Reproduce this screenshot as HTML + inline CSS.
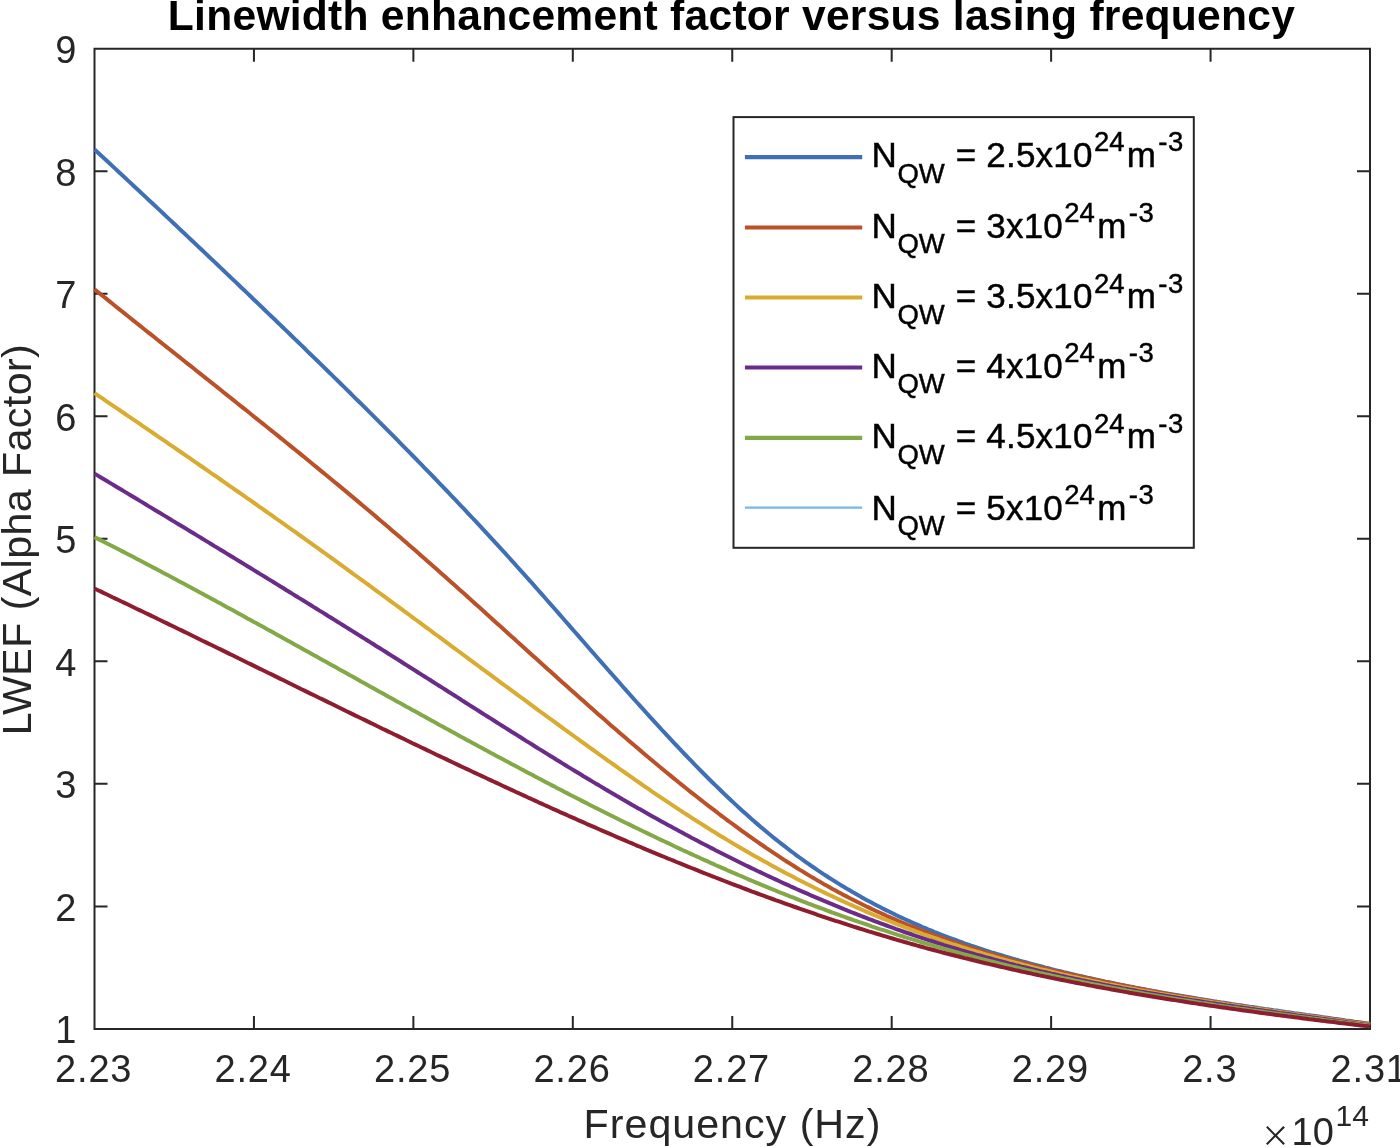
<!DOCTYPE html>
<html><head><meta charset="utf-8"><style>
html,body{margin:0;padding:0;background:#fff;}
body{width:1400px;height:1147px;overflow:hidden;}
svg{display:block;font-family:"Liberation Sans",Arial,sans-serif;}
</style></head><body>
<svg width="1400" height="1147" viewBox="0 0 1400 1147">
<rect width="1400" height="1147" fill="#fff"/>

<g stroke="#262626" stroke-width="2" fill="none">
<path d="M94.5 48.7H1370.0V1028.9H94.5ZM94.5 906.38h13M1370.0 906.38h-13M94.5 783.85h13M1370.0 783.85h-13M94.5 661.33h13M1370.0 661.33h-13M94.5 538.80h13M1370.0 538.80h-13M94.5 416.28h13M1370.0 416.28h-13M94.5 293.75h13M1370.0 293.75h-13M94.5 171.23h13M1370.0 171.23h-13M253.94 1028.9v-13M253.94 48.7v13M413.38 1028.9v-13M413.38 48.7v13M572.81 1028.9v-13M572.81 48.7v13M732.25 1028.9v-13M732.25 48.7v13M891.69 1028.9v-13M891.69 48.7v13M1051.12 1028.9v-13M1051.12 48.7v13M1210.56 1028.9v-13M1210.56 48.7v13"/>
</g>
<g fill="none" stroke-width="4.0" stroke-linejoin="round" stroke-linecap="butt">
<path d="M94.5 149.4L97.5 152.2L100.5 155.0L103.5 157.7L106.5 160.5L109.5 163.3L112.5 166.1L115.5 168.9L118.5 171.7L121.5 174.5L124.5 177.3L127.5 180.1L130.5 182.9L133.5 185.7L136.5 188.5L139.5 191.3L142.5 194.1L145.5 196.9L148.5 199.7L151.5 202.5L154.5 205.3L157.5 208.1L160.5 210.9L163.5 213.7L166.5 216.6L169.5 219.4L172.5 222.2L175.5 225.0L178.5 227.9L181.5 230.7L184.5 233.5L187.5 236.4L190.5 239.2L193.5 242.0L196.5 244.9L199.5 247.7L202.5 250.5L205.5 253.4L208.5 256.2L211.5 259.1L214.5 261.9L217.5 264.8L220.5 267.6L223.5 270.5L226.5 273.4L229.5 276.2L232.5 279.1L235.5 281.9L238.5 284.8L241.5 287.7L244.5 290.5L247.5 293.4L250.5 296.3L253.5 299.2L256.5 302.0L259.5 304.9L262.5 307.8L265.5 310.7L268.5 313.6L271.5 316.5L274.5 319.3L277.5 322.2L280.5 325.1L283.5 328.0L286.5 330.9L289.5 333.8L292.5 336.7L295.5 339.6L298.5 342.5L301.5 345.4L304.5 348.3L307.5 351.3L310.5 354.2L313.5 357.1L316.5 360.0L319.5 362.9L322.5 365.9L325.5 368.8L328.5 371.7L331.5 374.7L334.5 377.6L337.5 380.5L340.5 383.5L343.5 386.4L346.5 389.4L349.5 392.3L352.5 395.3L355.5 398.3L358.5 401.2L361.5 404.2L364.5 407.2L367.5 410.2L370.5 413.1L373.5 416.1L376.5 419.1L379.5 422.1L382.5 425.1L385.5 428.1L388.5 431.2L391.5 434.2L394.5 437.2L397.5 440.2L400.5 443.3L403.5 446.3L406.5 449.3L409.5 452.4L412.5 455.5L415.5 458.5L418.5 461.6L421.5 464.7L424.5 467.8L427.5 470.8L430.5 473.9L433.5 477.0L436.5 480.1L439.5 483.3L442.5 486.4L445.5 489.5L448.5 492.7L451.5 495.8L454.5 498.9L457.5 502.1L460.5 505.3L463.5 508.4L466.5 511.6L469.5 514.8L472.5 518.0L475.5 521.2L478.5 524.4L481.5 527.6L484.5 530.9L487.5 534.1L490.5 537.4L493.5 540.6L496.5 543.9L499.5 547.1L502.5 550.4L505.5 553.7L508.5 557.0L511.5 560.3L514.5 563.6L517.5 567.0L520.5 570.3L523.5 573.6L526.5 577.0L529.5 580.4L532.5 583.7L535.5 587.1L538.5 590.5L541.5 593.9L544.5 597.3L547.5 600.7L550.5 604.1L553.5 607.5L556.5 610.9L559.5 614.4L562.5 617.8L565.5 621.2L568.5 624.6L571.5 628.1L574.5 631.5L577.5 634.9L580.5 638.4L583.5 641.8L586.5 645.2L589.5 648.7L592.5 652.1L595.5 655.5L598.5 659.0L601.5 662.4L604.5 665.8L607.5 669.2L610.5 672.6L613.5 676.0L616.5 679.4L619.5 682.8L622.5 686.2L625.5 689.6L628.5 693.0L631.5 696.3L634.5 699.7L637.5 703.0L640.5 706.4L643.5 709.7L646.5 713.0L649.5 716.3L652.5 719.6L655.5 722.9L658.5 726.2L661.5 729.5L664.5 732.7L667.5 735.9L670.5 739.2L673.5 742.4L676.5 745.5L679.5 748.7L682.5 751.9L685.5 755.0L688.5 758.1L691.5 761.2L694.5 764.3L697.5 767.4L700.5 770.5L703.5 773.5L706.5 776.5L709.5 779.5L712.5 782.5L715.5 785.4L718.5 788.3L721.5 791.2L724.5 794.1L727.5 797.0L730.5 799.8L733.5 802.6L736.5 805.4L739.5 808.2L742.5 810.9L745.5 813.6L748.5 816.3L751.5 818.9L754.5 821.6L757.5 824.1L760.5 826.7L763.5 829.3L766.5 831.8L769.5 834.2L772.5 836.7L775.5 839.1L778.5 841.5L781.5 843.9L784.5 846.2L787.5 848.5L790.5 850.8L793.5 853.0L796.5 855.3L799.5 857.5L802.5 859.6L805.5 861.8L808.5 863.9L811.5 866.0L814.5 868.0L817.5 870.1L820.5 872.1L823.5 874.1L826.5 876.0L829.5 878.0L832.5 879.9L835.5 881.8L838.5 883.6L841.5 885.5L844.5 887.3L847.5 889.1L850.5 890.8L853.5 892.6L856.5 894.3L859.5 896.0L862.5 897.7L865.5 899.4L868.5 901.0L871.5 902.6L874.5 904.2L877.5 905.8L880.5 907.3L883.5 908.9L886.5 910.4L889.5 911.8L892.5 913.3L895.5 914.8L898.5 916.2L901.5 917.6L904.5 919.0L907.5 920.4L910.5 921.7L913.5 923.1L916.5 924.4L919.5 925.7L922.5 927.0L925.5 928.2L928.5 929.5L931.5 930.7L934.5 932.0L937.5 933.2L940.5 934.3L943.5 935.5L946.5 936.7L949.5 937.8L952.5 938.9L955.5 940.0L958.5 941.1L961.5 942.2L964.5 943.3L967.5 944.3L970.5 945.4L973.5 946.4L976.5 947.4L979.5 948.4L982.5 949.4L985.5 950.4L988.5 951.3L991.5 952.3L994.5 953.2L997.5 954.1L1000.5 955.0L1003.5 955.9L1006.5 956.8L1009.5 957.7L1012.5 958.6L1015.5 959.5L1018.5 960.3L1021.5 961.2L1024.5 962.0L1027.5 962.8L1030.5 963.6L1033.5 964.4L1036.5 965.2L1039.5 966.0L1042.5 966.8L1045.5 967.6L1048.5 968.3L1051.5 969.1L1054.5 969.9L1057.5 970.6L1060.5 971.3L1063.5 972.1L1066.5 972.8L1069.5 973.5L1072.5 974.2L1075.5 974.9L1078.5 975.6L1081.5 976.3L1084.5 977.0L1087.5 977.7L1090.5 978.3L1093.5 979.0L1096.5 979.6L1099.5 980.3L1102.5 980.9L1105.5 981.6L1108.5 982.2L1111.5 982.8L1114.5 983.4L1117.5 984.1L1120.5 984.7L1123.5 985.3L1126.5 985.9L1129.5 986.5L1132.5 987.0L1135.5 987.6L1138.5 988.2L1141.5 988.8L1144.5 989.3L1147.5 989.9L1150.5 990.4L1153.5 991.0L1156.5 991.5L1159.5 992.1L1162.5 992.6L1165.5 993.2L1168.5 993.7L1171.5 994.2L1174.5 994.7L1177.5 995.2L1180.5 995.8L1183.5 996.3L1186.5 996.8L1189.5 997.3L1192.5 997.8L1195.5 998.3L1198.5 998.8L1201.5 999.2L1204.5 999.7L1207.5 1000.2L1210.5 1000.7L1213.5 1001.2L1216.5 1001.6L1219.5 1002.1L1222.5 1002.6L1225.5 1003.0L1228.5 1003.5L1231.5 1004.0L1234.5 1004.4L1237.5 1004.9L1240.5 1005.3L1243.5 1005.8L1246.5 1006.2L1249.5 1006.7L1252.5 1007.1L1255.5 1007.5L1258.5 1008.0L1261.5 1008.4L1264.5 1008.9L1267.5 1009.3L1270.5 1009.7L1273.5 1010.2L1276.5 1010.6L1279.5 1011.0L1282.5 1011.4L1285.5 1011.9L1288.5 1012.3L1291.5 1012.7L1294.5 1013.2L1297.5 1013.6L1300.5 1014.0L1303.5 1014.4L1306.5 1014.9L1309.5 1015.3L1312.5 1015.7L1315.5 1016.1L1318.5 1016.5L1321.5 1017.0L1324.5 1017.4L1327.5 1017.8L1330.5 1018.2L1333.5 1018.7L1336.5 1019.1L1339.5 1019.5L1342.5 1019.9L1345.5 1020.4L1348.5 1020.8L1351.5 1021.2L1354.5 1021.7L1357.5 1022.1L1360.5 1022.5L1363.5 1023.0L1366.5 1023.4L1369.5 1023.8L1370.0 1023.9" stroke="#3F6FB4"/>
<path d="M94.5 289.3L97.5 291.7L100.5 294.1L103.5 296.5L106.5 298.9L109.5 301.4L112.5 303.8L115.5 306.2L118.5 308.6L121.5 311.0L124.5 313.4L127.5 315.8L130.5 318.2L133.5 320.6L136.5 323.0L139.5 325.4L142.5 327.8L145.5 330.2L148.5 332.6L151.5 334.9L154.5 337.3L157.5 339.7L160.5 342.1L163.5 344.5L166.5 346.9L169.5 349.3L172.5 351.6L175.5 354.0L178.5 356.4L181.5 358.8L184.5 361.2L187.5 363.6L190.5 365.9L193.5 368.3L196.5 370.7L199.5 373.1L202.5 375.5L205.5 377.9L208.5 380.3L211.5 382.6L214.5 385.0L217.5 387.4L220.5 389.8L223.5 392.2L226.5 394.6L229.5 397.0L232.5 399.4L235.5 401.8L238.5 404.2L241.5 406.6L244.5 408.9L247.5 411.3L250.5 413.7L253.5 416.2L256.5 418.6L259.5 421.0L262.5 423.4L265.5 425.8L268.5 428.2L271.5 430.6L274.5 433.0L277.5 435.4L280.5 437.9L283.5 440.3L286.5 442.7L289.5 445.1L292.5 447.6L295.5 450.0L298.5 452.4L301.5 454.9L304.5 457.3L307.5 459.8L310.5 462.2L313.5 464.7L316.5 467.1L319.5 469.6L322.5 472.1L325.5 474.5L328.5 477.0L331.5 479.5L334.5 482.0L337.5 484.4L340.5 486.9L343.5 489.4L346.5 491.9L349.5 494.4L352.5 496.9L355.5 499.4L358.5 501.9L361.5 504.5L364.5 507.0L367.5 509.5L370.5 512.0L373.5 514.6L376.5 517.1L379.5 519.7L382.5 522.2L385.5 524.8L388.5 527.3L391.5 529.9L394.5 532.5L397.5 535.0L400.5 537.6L403.5 540.2L406.5 542.8L409.5 545.4L412.5 548.0L415.5 550.6L418.5 553.3L421.5 555.9L424.5 558.5L427.5 561.2L430.5 563.8L433.5 566.4L436.5 569.1L439.5 571.7L442.5 574.4L445.5 577.1L448.5 579.7L451.5 582.4L454.5 585.1L457.5 587.8L460.5 590.5L463.5 593.1L466.5 595.8L469.5 598.5L472.5 601.2L475.5 603.9L478.5 606.6L481.5 609.3L484.5 612.0L487.5 614.7L490.5 617.4L493.5 620.2L496.5 622.9L499.5 625.6L502.5 628.3L505.5 631.0L508.5 633.7L511.5 636.4L514.5 639.1L517.5 641.9L520.5 644.6L523.5 647.3L526.5 650.0L529.5 652.7L532.5 655.4L535.5 658.1L538.5 660.8L541.5 663.5L544.5 666.2L547.5 668.9L550.5 671.6L553.5 674.3L556.5 677.0L559.5 679.7L562.5 682.4L565.5 685.1L568.5 687.8L571.5 690.4L574.5 693.1L577.5 695.8L580.5 698.5L583.5 701.1L586.5 703.8L589.5 706.4L592.5 709.1L595.5 711.7L598.5 714.4L601.5 717.0L604.5 719.6L607.5 722.2L610.5 724.9L613.5 727.5L616.5 730.1L619.5 732.7L622.5 735.3L625.5 737.8L628.5 740.4L631.5 743.0L634.5 745.5L637.5 748.1L640.5 750.6L643.5 753.2L646.5 755.7L649.5 758.2L652.5 760.7L655.5 763.3L658.5 765.7L661.5 768.2L664.5 770.7L667.5 773.2L670.5 775.6L673.5 778.1L676.5 780.5L679.5 783.0L682.5 785.4L685.5 787.8L688.5 790.2L691.5 792.6L694.5 794.9L697.5 797.3L700.5 799.6L703.5 802.0L706.5 804.3L709.5 806.6L712.5 808.9L715.5 811.2L718.5 813.5L721.5 815.8L724.5 818.0L727.5 820.3L730.5 822.5L733.5 824.7L736.5 826.9L739.5 829.1L742.5 831.3L745.5 833.4L748.5 835.6L751.5 837.7L754.5 839.8L757.5 841.9L760.5 844.0L763.5 846.0L766.5 848.1L769.5 850.1L772.5 852.1L775.5 854.1L778.5 856.1L781.5 858.1L784.5 860.1L787.5 862.0L790.5 863.9L793.5 865.8L796.5 867.7L799.5 869.6L802.5 871.4L805.5 873.3L808.5 875.1L811.5 876.9L814.5 878.6L817.5 880.4L820.5 882.1L823.5 883.9L826.5 885.6L829.5 887.2L832.5 888.9L835.5 890.5L838.5 892.2L841.5 893.8L844.5 895.4L847.5 896.9L850.5 898.5L853.5 900.0L856.5 901.5L859.5 903.0L862.5 904.5L865.5 906.0L868.5 907.4L871.5 908.9L874.5 910.3L877.5 911.7L880.5 913.0L883.5 914.4L886.5 915.8L889.5 917.1L892.5 918.4L895.5 919.7L898.5 921.0L901.5 922.3L904.5 923.5L907.5 924.8L910.5 926.0L913.5 927.2L916.5 928.4L919.5 929.6L922.5 930.7L925.5 931.9L928.5 933.0L931.5 934.2L934.5 935.3L937.5 936.4L940.5 937.5L943.5 938.5L946.5 939.6L949.5 940.6L952.5 941.7L955.5 942.7L958.5 943.7L961.5 944.7L964.5 945.7L967.5 946.7L970.5 947.7L973.5 948.6L976.5 949.5L979.5 950.5L982.5 951.4L985.5 952.3L988.5 953.2L991.5 954.1L994.5 955.0L997.5 955.8L1000.5 956.7L1003.5 957.6L1006.5 958.4L1009.5 959.2L1012.5 960.1L1015.5 960.9L1018.5 961.7L1021.5 962.5L1024.5 963.3L1027.5 964.0L1030.5 964.8L1033.5 965.6L1036.5 966.3L1039.5 967.1L1042.5 967.8L1045.5 968.5L1048.5 969.3L1051.5 970.0L1054.5 970.7L1057.5 971.4L1060.5 972.1L1063.5 972.8L1066.5 973.5L1069.5 974.2L1072.5 974.8L1075.5 975.5L1078.5 976.2L1081.5 976.8L1084.5 977.5L1087.5 978.1L1090.5 978.8L1093.5 979.4L1096.5 980.0L1099.5 980.7L1102.5 981.3L1105.5 981.9L1108.5 982.5L1111.5 983.1L1114.5 983.7L1117.5 984.3L1120.5 984.9L1123.5 985.5L1126.5 986.1L1129.5 986.7L1132.5 987.3L1135.5 987.9L1138.5 988.5L1141.5 989.0L1144.5 989.6L1147.5 990.2L1150.5 990.7L1153.5 991.3L1156.5 991.9L1159.5 992.4L1162.5 992.9L1165.5 993.5L1168.5 994.0L1171.5 994.6L1174.5 995.1L1177.5 995.6L1180.5 996.2L1183.5 996.7L1186.5 997.2L1189.5 997.7L1192.5 998.2L1195.5 998.7L1198.5 999.3L1201.5 999.8L1204.5 1000.3L1207.5 1000.8L1210.5 1001.3L1213.5 1001.7L1216.5 1002.2L1219.5 1002.7L1222.5 1003.2L1225.5 1003.7L1228.5 1004.2L1231.5 1004.6L1234.5 1005.1L1237.5 1005.6L1240.5 1006.0L1243.5 1006.5L1246.5 1007.0L1249.5 1007.4L1252.5 1007.9L1255.5 1008.3L1258.5 1008.8L1261.5 1009.2L1264.5 1009.7L1267.5 1010.1L1270.5 1010.6L1273.5 1011.0L1276.5 1011.4L1279.5 1011.9L1282.5 1012.3L1285.5 1012.7L1288.5 1013.2L1291.5 1013.6L1294.5 1014.0L1297.5 1014.4L1300.5 1014.8L1303.5 1015.3L1306.5 1015.7L1309.5 1016.1L1312.5 1016.5L1315.5 1016.9L1318.5 1017.3L1321.5 1017.7L1324.5 1018.1L1327.5 1018.5L1330.5 1018.9L1333.5 1019.3L1336.5 1019.7L1339.5 1020.1L1342.5 1020.5L1345.5 1020.9L1348.5 1021.3L1351.5 1021.6L1354.5 1022.0L1357.5 1022.4L1360.5 1022.8L1363.5 1023.2L1366.5 1023.5L1369.5 1023.9L1370.0 1024.0" stroke="#BB5128"/>
<path d="M94.5 393.1L97.5 395.1L100.5 397.2L103.5 399.2L106.5 401.3L109.5 403.3L112.5 405.3L115.5 407.4L118.5 409.4L121.5 411.5L124.5 413.5L127.5 415.6L130.5 417.6L133.5 419.6L136.5 421.7L139.5 423.7L142.5 425.8L145.5 427.8L148.5 429.9L151.5 431.9L154.5 434.0L157.5 436.1L160.5 438.1L163.5 440.2L166.5 442.2L169.5 444.3L172.5 446.3L175.5 448.4L178.5 450.5L181.5 452.5L184.5 454.6L187.5 456.7L190.5 458.7L193.5 460.8L196.5 462.9L199.5 465.0L202.5 467.0L205.5 469.1L208.5 471.2L211.5 473.3L214.5 475.3L217.5 477.4L220.5 479.5L223.5 481.6L226.5 483.7L229.5 485.8L232.5 487.9L235.5 490.0L238.5 492.0L241.5 494.1L244.5 496.2L247.5 498.3L250.5 500.4L253.5 502.5L256.5 504.7L259.5 506.8L262.5 508.9L265.5 511.0L268.5 513.1L271.5 515.2L274.5 517.3L277.5 519.5L280.5 521.6L283.5 523.7L286.5 525.8L289.5 528.0L292.5 530.1L295.5 532.2L298.5 534.4L301.5 536.5L304.5 538.7L307.5 540.8L310.5 542.9L313.5 545.1L316.5 547.2L319.5 549.4L322.5 551.6L325.5 553.7L328.5 555.9L331.5 558.0L334.5 560.2L337.5 562.4L340.5 564.6L343.5 566.7L346.5 568.9L349.5 571.1L352.5 573.3L355.5 575.5L358.5 577.6L361.5 579.8L364.5 582.0L367.5 584.2L370.5 586.4L373.5 588.6L376.5 590.8L379.5 593.0L382.5 595.2L385.5 597.4L388.5 599.6L391.5 601.8L394.5 604.0L397.5 606.2L400.5 608.4L403.5 610.6L406.5 612.8L409.5 615.0L412.5 617.3L415.5 619.5L418.5 621.7L421.5 623.9L424.5 626.1L427.5 628.3L430.5 630.5L433.5 632.8L436.5 635.0L439.5 637.2L442.5 639.4L445.5 641.6L448.5 643.9L451.5 646.1L454.5 648.3L457.5 650.5L460.5 652.7L463.5 655.0L466.5 657.2L469.5 659.4L472.5 661.6L475.5 663.8L478.5 666.0L481.5 668.3L484.5 670.5L487.5 672.7L490.5 674.9L493.5 677.1L496.5 679.3L499.5 681.6L502.5 683.8L505.5 686.0L508.5 688.2L511.5 690.4L514.5 692.6L517.5 694.8L520.5 697.0L523.5 699.2L526.5 701.4L529.5 703.7L532.5 705.9L535.5 708.1L538.5 710.3L541.5 712.5L544.5 714.7L547.5 716.8L550.5 719.0L553.5 721.2L556.5 723.4L559.5 725.6L562.5 727.8L565.5 730.0L568.5 732.2L571.5 734.3L574.5 736.5L577.5 738.7L580.5 740.9L583.5 743.0L586.5 745.2L589.5 747.4L592.5 749.5L595.5 751.7L598.5 753.8L601.5 756.0L604.5 758.1L607.5 760.3L610.5 762.4L613.5 764.5L616.5 766.7L619.5 768.8L622.5 770.9L625.5 773.0L628.5 775.1L631.5 777.2L634.5 779.3L637.5 781.4L640.5 783.5L643.5 785.6L646.5 787.6L649.5 789.7L652.5 791.8L655.5 793.8L658.5 795.8L661.5 797.9L664.5 799.9L667.5 801.9L670.5 803.9L673.5 805.9L676.5 807.9L679.5 809.9L682.5 811.8L685.5 813.8L688.5 815.7L691.5 817.7L694.5 819.6L697.5 821.5L700.5 823.4L703.5 825.3L706.5 827.2L709.5 829.1L712.5 831.0L715.5 832.8L718.5 834.7L721.5 836.5L724.5 838.3L727.5 840.1L730.5 841.9L733.5 843.7L736.5 845.5L739.5 847.2L742.5 849.0L745.5 850.7L748.5 852.5L751.5 854.2L754.5 855.9L757.5 857.6L760.5 859.3L763.5 861.0L766.5 862.6L769.5 864.3L772.5 865.9L775.5 867.6L778.5 869.2L781.5 870.8L784.5 872.4L787.5 874.0L790.5 875.5L793.5 877.1L796.5 878.7L799.5 880.2L802.5 881.7L805.5 883.2L808.5 884.8L811.5 886.3L814.5 887.7L817.5 889.2L820.5 890.7L823.5 892.1L826.5 893.6L829.5 895.0L832.5 896.4L835.5 897.8L838.5 899.2L841.5 900.6L844.5 902.0L847.5 903.3L850.5 904.7L853.5 906.0L856.5 907.4L859.5 908.7L862.5 910.0L865.5 911.3L868.5 912.6L871.5 913.8L874.5 915.1L877.5 916.3L880.5 917.6L883.5 918.8L886.5 920.0L889.5 921.2L892.5 922.4L895.5 923.6L898.5 924.8L901.5 925.9L904.5 927.1L907.5 928.2L910.5 929.4L913.5 930.5L916.5 931.6L919.5 932.7L922.5 933.8L925.5 934.8L928.5 935.9L931.5 937.0L934.5 938.0L937.5 939.0L940.5 940.1L943.5 941.1L946.5 942.1L949.5 943.1L952.5 944.1L955.5 945.0L958.5 946.0L961.5 947.0L964.5 947.9L967.5 948.9L970.5 949.8L973.5 950.7L976.5 951.6L979.5 952.5L982.5 953.4L985.5 954.3L988.5 955.2L991.5 956.0L994.5 956.9L997.5 957.8L1000.5 958.6L1003.5 959.4L1006.5 960.3L1009.5 961.1L1012.5 961.9L1015.5 962.7L1018.5 963.5L1021.5 964.3L1024.5 965.1L1027.5 965.8L1030.5 966.6L1033.5 967.4L1036.5 968.1L1039.5 968.9L1042.5 969.6L1045.5 970.3L1048.5 971.0L1051.5 971.8L1054.5 972.5L1057.5 973.2L1060.5 973.9L1063.5 974.6L1066.5 975.2L1069.5 975.9L1072.5 976.6L1075.5 977.2L1078.5 977.9L1081.5 978.6L1084.5 979.2L1087.5 979.8L1090.5 980.5L1093.5 981.1L1096.5 981.7L1099.5 982.3L1102.5 982.9L1105.5 983.6L1108.5 984.2L1111.5 984.7L1114.5 985.3L1117.5 985.9L1120.5 986.5L1123.5 987.1L1126.5 987.6L1129.5 988.2L1132.5 988.8L1135.5 989.3L1138.5 989.9L1141.5 990.4L1144.5 991.0L1147.5 991.5L1150.5 992.0L1153.5 992.5L1156.5 993.1L1159.5 993.6L1162.5 994.1L1165.5 994.6L1168.5 995.1L1171.5 995.6L1174.5 996.1L1177.5 996.6L1180.5 997.1L1183.5 997.6L1186.5 998.1L1189.5 998.6L1192.5 999.1L1195.5 999.6L1198.5 1000.0L1201.5 1000.5L1204.5 1001.0L1207.5 1001.4L1210.5 1001.9L1213.5 1002.4L1216.5 1002.8L1219.5 1003.3L1222.5 1003.7L1225.5 1004.2L1228.5 1004.6L1231.5 1005.1L1234.5 1005.5L1237.5 1006.0L1240.5 1006.4L1243.5 1006.9L1246.5 1007.3L1249.5 1007.7L1252.5 1008.2L1255.5 1008.6L1258.5 1009.0L1261.5 1009.5L1264.5 1009.9L1267.5 1010.3L1270.5 1010.8L1273.5 1011.2L1276.5 1011.6L1279.5 1012.0L1282.5 1012.5L1285.5 1012.9L1288.5 1013.3L1291.5 1013.7L1294.5 1014.2L1297.5 1014.6L1300.5 1015.0L1303.5 1015.4L1306.5 1015.8L1309.5 1016.3L1312.5 1016.7L1315.5 1017.1L1318.5 1017.5L1321.5 1018.0L1324.5 1018.4L1327.5 1018.8L1330.5 1019.2L1333.5 1019.7L1336.5 1020.1L1339.5 1020.5L1342.5 1020.9L1345.5 1021.4L1348.5 1021.8L1351.5 1022.2L1354.5 1022.7L1357.5 1023.1L1360.5 1023.5L1363.5 1024.0L1366.5 1024.4L1369.5 1024.8L1370.0 1024.9" stroke="#DAAB31"/>
<path d="M94.5 473.6L97.5 475.4L100.5 477.2L103.5 479.0L106.5 480.8L109.5 482.6L112.5 484.4L115.5 486.2L118.5 488.0L121.5 489.8L124.5 491.6L127.5 493.4L130.5 495.2L133.5 497.0L136.5 498.8L139.5 500.6L142.5 502.4L145.5 504.2L148.5 506.1L151.5 507.9L154.5 509.7L157.5 511.5L160.5 513.3L163.5 515.1L166.5 516.9L169.5 518.7L172.5 520.6L175.5 522.4L178.5 524.2L181.5 526.0L184.5 527.8L187.5 529.6L190.5 531.5L193.5 533.3L196.5 535.1L199.5 536.9L202.5 538.8L205.5 540.6L208.5 542.4L211.5 544.2L214.5 546.1L217.5 547.9L220.5 549.7L223.5 551.5L226.5 553.4L229.5 555.2L232.5 557.0L235.5 558.9L238.5 560.7L241.5 562.5L244.5 564.4L247.5 566.2L250.5 568.0L253.5 569.9L256.5 571.7L259.5 573.6L262.5 575.4L265.5 577.2L268.5 579.1L271.5 580.9L274.5 582.8L277.5 584.6L280.5 586.5L283.5 588.3L286.5 590.2L289.5 592.0L292.5 593.9L295.5 595.7L298.5 597.6L301.5 599.4L304.5 601.3L307.5 603.1L310.5 605.0L313.5 606.9L316.5 608.7L319.5 610.6L322.5 612.4L325.5 614.3L328.5 616.2L331.5 618.0L334.5 619.9L337.5 621.8L340.5 623.6L343.5 625.5L346.5 627.4L349.5 629.3L352.5 631.1L355.5 633.0L358.5 634.9L361.5 636.8L364.5 638.6L367.5 640.5L370.5 642.4L373.5 644.3L376.5 646.2L379.5 648.0L382.5 649.9L385.5 651.8L388.5 653.7L391.5 655.6L394.5 657.5L397.5 659.4L400.5 661.3L403.5 663.2L406.5 665.1L409.5 667.0L412.5 668.9L415.5 670.8L418.5 672.7L421.5 674.6L424.5 676.5L427.5 678.4L430.5 680.3L433.5 682.2L436.5 684.1L439.5 686.0L442.5 687.9L445.5 689.8L448.5 691.7L451.5 693.6L454.5 695.5L457.5 697.4L460.5 699.3L463.5 701.3L466.5 703.2L469.5 705.1L472.5 707.0L475.5 708.9L478.5 710.8L481.5 712.7L484.5 714.6L487.5 716.5L490.5 718.4L493.5 720.3L496.5 722.2L499.5 724.1L502.5 726.0L505.5 727.9L508.5 729.8L511.5 731.7L514.5 733.5L517.5 735.4L520.5 737.3L523.5 739.2L526.5 741.1L529.5 742.9L532.5 744.8L535.5 746.7L538.5 748.6L541.5 750.4L544.5 752.3L547.5 754.1L550.5 756.0L553.5 757.8L556.5 759.7L559.5 761.5L562.5 763.4L565.5 765.2L568.5 767.1L571.5 768.9L574.5 770.7L577.5 772.5L580.5 774.3L583.5 776.2L586.5 778.0L589.5 779.8L592.5 781.6L595.5 783.4L598.5 785.1L601.5 786.9L604.5 788.7L607.5 790.5L610.5 792.3L613.5 794.0L616.5 795.8L619.5 797.5L622.5 799.3L625.5 801.0L628.5 802.7L631.5 804.5L634.5 806.2L637.5 807.9L640.5 809.6L643.5 811.3L646.5 813.0L649.5 814.7L652.5 816.4L655.5 818.1L658.5 819.7L661.5 821.4L664.5 823.1L667.5 824.7L670.5 826.3L673.5 828.0L676.5 829.6L679.5 831.2L682.5 832.8L685.5 834.5L688.5 836.1L691.5 837.7L694.5 839.2L697.5 840.8L700.5 842.4L703.5 844.0L706.5 845.5L709.5 847.1L712.5 848.6L715.5 850.2L718.5 851.7L721.5 853.2L724.5 854.7L727.5 856.2L730.5 857.7L733.5 859.2L736.5 860.7L739.5 862.2L742.5 863.7L745.5 865.2L748.5 866.6L751.5 868.1L754.5 869.5L757.5 871.0L760.5 872.4L763.5 873.8L766.5 875.2L769.5 876.6L772.5 878.0L775.5 879.4L778.5 880.8L781.5 882.2L784.5 883.6L787.5 884.9L790.5 886.3L793.5 887.6L796.5 889.0L799.5 890.3L802.5 891.6L805.5 892.9L808.5 894.2L811.5 895.6L814.5 896.8L817.5 898.1L820.5 899.4L823.5 900.7L826.5 901.9L829.5 903.2L832.5 904.4L835.5 905.7L838.5 906.9L841.5 908.1L844.5 909.4L847.5 910.6L850.5 911.8L853.5 913.0L856.5 914.1L859.5 915.3L862.5 916.5L865.5 917.6L868.5 918.8L871.5 919.9L874.5 921.1L877.5 922.2L880.5 923.3L883.5 924.4L886.5 925.5L889.5 926.6L892.5 927.7L895.5 928.8L898.5 929.8L901.5 930.9L904.5 932.0L907.5 933.0L910.5 934.0L913.5 935.1L916.5 936.1L919.5 937.1L922.5 938.1L925.5 939.1L928.5 940.1L931.5 941.0L934.5 942.0L937.5 943.0L940.5 943.9L943.5 944.9L946.5 945.8L949.5 946.7L952.5 947.6L955.5 948.5L958.5 949.4L961.5 950.3L964.5 951.2L967.5 952.1L970.5 953.0L973.5 953.8L976.5 954.7L979.5 955.5L982.5 956.3L985.5 957.2L988.5 958.0L991.5 958.8L994.5 959.6L997.5 960.4L1000.5 961.2L1003.5 962.0L1006.5 962.8L1009.5 963.6L1012.5 964.3L1015.5 965.1L1018.5 965.8L1021.5 966.6L1024.5 967.3L1027.5 968.0L1030.5 968.8L1033.5 969.5L1036.5 970.2L1039.5 970.9L1042.5 971.6L1045.5 972.3L1048.5 973.0L1051.5 973.7L1054.5 974.3L1057.5 975.0L1060.5 975.7L1063.5 976.3L1066.5 977.0L1069.5 977.6L1072.5 978.3L1075.5 978.9L1078.5 979.5L1081.5 980.2L1084.5 980.8L1087.5 981.4L1090.5 982.0L1093.5 982.6L1096.5 983.2L1099.5 983.8L1102.5 984.4L1105.5 985.0L1108.5 985.5L1111.5 986.1L1114.5 986.7L1117.5 987.2L1120.5 987.8L1123.5 988.4L1126.5 988.9L1129.5 989.5L1132.5 990.0L1135.5 990.5L1138.5 991.1L1141.5 991.6L1144.5 992.1L1147.5 992.7L1150.5 993.2L1153.5 993.7L1156.5 994.2L1159.5 994.7L1162.5 995.2L1165.5 995.7L1168.5 996.2L1171.5 996.7L1174.5 997.2L1177.5 997.7L1180.5 998.2L1183.5 998.7L1186.5 999.1L1189.5 999.6L1192.5 1000.1L1195.5 1000.6L1198.5 1001.0L1201.5 1001.5L1204.5 1002.0L1207.5 1002.4L1210.5 1002.9L1213.5 1003.3L1216.5 1003.8L1219.5 1004.2L1222.5 1004.7L1225.5 1005.1L1228.5 1005.6L1231.5 1006.0L1234.5 1006.4L1237.5 1006.9L1240.5 1007.3L1243.5 1007.8L1246.5 1008.2L1249.5 1008.6L1252.5 1009.1L1255.5 1009.5L1258.5 1009.9L1261.5 1010.3L1264.5 1010.8L1267.5 1011.2L1270.5 1011.6L1273.5 1012.0L1276.5 1012.4L1279.5 1012.9L1282.5 1013.3L1285.5 1013.7L1288.5 1014.1L1291.5 1014.5L1294.5 1014.9L1297.5 1015.4L1300.5 1015.8L1303.5 1016.2L1306.5 1016.6L1309.5 1017.0L1312.5 1017.4L1315.5 1017.8L1318.5 1018.3L1321.5 1018.7L1324.5 1019.1L1327.5 1019.5L1330.5 1019.9L1333.5 1020.3L1336.5 1020.7L1339.5 1021.2L1342.5 1021.6L1345.5 1022.0L1348.5 1022.4L1351.5 1022.8L1354.5 1023.2L1357.5 1023.7L1360.5 1024.1L1363.5 1024.5L1366.5 1024.9L1369.5 1025.3L1370.0 1025.4" stroke="#6A2C88"/>
<path d="M94.5 537.1L97.5 538.6L100.5 540.1L103.5 541.6L106.5 543.2L109.5 544.7L112.5 546.2L115.5 547.8L118.5 549.3L121.5 550.9L124.5 552.4L127.5 554.0L130.5 555.5L133.5 557.1L136.5 558.7L139.5 560.2L142.5 561.8L145.5 563.4L148.5 565.0L151.5 566.6L154.5 568.1L157.5 569.7L160.5 571.3L163.5 572.9L166.5 574.5L169.5 576.1L172.5 577.7L175.5 579.3L178.5 580.9L181.5 582.5L184.5 584.1L187.5 585.7L190.5 587.3L193.5 589.0L196.5 590.6L199.5 592.2L202.5 593.8L205.5 595.4L208.5 597.1L211.5 598.7L214.5 600.3L217.5 602.0L220.5 603.6L223.5 605.2L226.5 606.9L229.5 608.5L232.5 610.1L235.5 611.8L238.5 613.4L241.5 615.1L244.5 616.7L247.5 618.4L250.5 620.0L253.5 621.7L256.5 623.3L259.5 625.0L262.5 626.6L265.5 628.3L268.5 629.9L271.5 631.6L274.5 633.3L277.5 634.9L280.5 636.6L283.5 638.3L286.5 639.9L289.5 641.6L292.5 643.2L295.5 644.9L298.5 646.6L301.5 648.2L304.5 649.9L307.5 651.6L310.5 653.2L313.5 654.9L316.5 656.6L319.5 658.3L322.5 659.9L325.5 661.6L328.5 663.3L331.5 664.9L334.5 666.6L337.5 668.3L340.5 670.0L343.5 671.6L346.5 673.3L349.5 675.0L352.5 676.6L355.5 678.3L358.5 680.0L361.5 681.7L364.5 683.3L367.5 685.0L370.5 686.7L373.5 688.3L376.5 690.0L379.5 691.7L382.5 693.3L385.5 695.0L388.5 696.7L391.5 698.3L394.5 700.0L397.5 701.7L400.5 703.3L403.5 705.0L406.5 706.7L409.5 708.3L412.5 710.0L415.5 711.6L418.5 713.3L421.5 715.0L424.5 716.6L427.5 718.3L430.5 719.9L433.5 721.6L436.5 723.2L439.5 724.9L442.5 726.5L445.5 728.2L448.5 729.8L451.5 731.5L454.5 733.1L457.5 734.7L460.5 736.4L463.5 738.0L466.5 739.7L469.5 741.3L472.5 742.9L475.5 744.6L478.5 746.2L481.5 747.8L484.5 749.4L487.5 751.1L490.5 752.7L493.5 754.3L496.5 755.9L499.5 757.5L502.5 759.1L505.5 760.7L508.5 762.3L511.5 763.9L514.5 765.5L517.5 767.1L520.5 768.7L523.5 770.3L526.5 771.9L529.5 773.5L532.5 775.1L535.5 776.7L538.5 778.3L541.5 779.8L544.5 781.4L547.5 783.0L550.5 784.6L553.5 786.1L556.5 787.7L559.5 789.2L562.5 790.8L565.5 792.4L568.5 793.9L571.5 795.5L574.5 797.0L577.5 798.5L580.5 800.1L583.5 801.6L586.5 803.1L589.5 804.7L592.5 806.2L595.5 807.7L598.5 809.2L601.5 810.7L604.5 812.2L607.5 813.7L610.5 815.2L613.5 816.7L616.5 818.2L619.5 819.7L622.5 821.2L625.5 822.7L628.5 824.1L631.5 825.6L634.5 827.1L637.5 828.5L640.5 830.0L643.5 831.5L646.5 832.9L649.5 834.4L652.5 835.8L655.5 837.2L658.5 838.7L661.5 840.1L664.5 841.5L667.5 842.9L670.5 844.3L673.5 845.8L676.5 847.2L679.5 848.6L682.5 850.0L685.5 851.3L688.5 852.7L691.5 854.1L694.5 855.5L697.5 856.8L700.5 858.2L703.5 859.6L706.5 860.9L709.5 862.3L712.5 863.6L715.5 865.0L718.5 866.3L721.5 867.6L724.5 868.9L727.5 870.3L730.5 871.6L733.5 872.9L736.5 874.2L739.5 875.5L742.5 876.7L745.5 878.0L748.5 879.3L751.5 880.6L754.5 881.8L757.5 883.1L760.5 884.4L763.5 885.6L766.5 886.8L769.5 888.1L772.5 889.3L775.5 890.5L778.5 891.8L781.5 893.0L784.5 894.2L787.5 895.4L790.5 896.6L793.5 897.7L796.5 898.9L799.5 900.1L802.5 901.3L805.5 902.4L808.5 903.6L811.5 904.7L814.5 905.9L817.5 907.0L820.5 908.1L823.5 909.2L826.5 910.4L829.5 911.5L832.5 912.6L835.5 913.7L838.5 914.7L841.5 915.8L844.5 916.9L847.5 918.0L850.5 919.0L853.5 920.1L856.5 921.1L859.5 922.2L862.5 923.2L865.5 924.2L868.5 925.2L871.5 926.3L874.5 927.3L877.5 928.3L880.5 929.3L883.5 930.2L886.5 931.2L889.5 932.2L892.5 933.2L895.5 934.1L898.5 935.1L901.5 936.0L904.5 937.0L907.5 937.9L910.5 938.8L913.5 939.7L916.5 940.7L919.5 941.6L922.5 942.5L925.5 943.4L928.5 944.2L931.5 945.1L934.5 946.0L937.5 946.9L940.5 947.7L943.5 948.6L946.5 949.4L949.5 950.3L952.5 951.1L955.5 952.0L958.5 952.8L961.5 953.6L964.5 954.4L967.5 955.2L970.5 956.0L973.5 956.8L976.5 957.6L979.5 958.4L982.5 959.2L985.5 959.9L988.5 960.7L991.5 961.4L994.5 962.2L997.5 963.0L1000.5 963.7L1003.5 964.4L1006.5 965.2L1009.5 965.9L1012.5 966.6L1015.5 967.3L1018.5 968.0L1021.5 968.7L1024.5 969.4L1027.5 970.1L1030.5 970.8L1033.5 971.5L1036.5 972.2L1039.5 972.9L1042.5 973.5L1045.5 974.2L1048.5 974.8L1051.5 975.5L1054.5 976.1L1057.5 976.8L1060.5 977.4L1063.5 978.1L1066.5 978.7L1069.5 979.3L1072.5 979.9L1075.5 980.6L1078.5 981.2L1081.5 981.8L1084.5 982.4L1087.5 983.0L1090.5 983.6L1093.5 984.2L1096.5 984.7L1099.5 985.3L1102.5 985.9L1105.5 986.5L1108.5 987.0L1111.5 987.6L1114.5 988.2L1117.5 988.7L1120.5 989.3L1123.5 989.8L1126.5 990.4L1129.5 990.9L1132.5 991.5L1135.5 992.0L1138.5 992.5L1141.5 993.0L1144.5 993.6L1147.5 994.1L1150.5 994.6L1153.5 995.1L1156.5 995.6L1159.5 996.1L1162.5 996.6L1165.5 997.1L1168.5 997.6L1171.5 998.1L1174.5 998.6L1177.5 999.1L1180.5 999.6L1183.5 1000.1L1186.5 1000.5L1189.5 1001.0L1192.5 1001.5L1195.5 1002.0L1198.5 1002.4L1201.5 1002.9L1204.5 1003.3L1207.5 1003.8L1210.5 1004.3L1213.5 1004.7L1216.5 1005.2L1219.5 1005.6L1222.5 1006.1L1225.5 1006.5L1228.5 1006.9L1231.5 1007.4L1234.5 1007.8L1237.5 1008.2L1240.5 1008.7L1243.5 1009.1L1246.5 1009.5L1249.5 1010.0L1252.5 1010.4L1255.5 1010.8L1258.5 1011.2L1261.5 1011.6L1264.5 1012.0L1267.5 1012.5L1270.5 1012.9L1273.5 1013.3L1276.5 1013.7L1279.5 1014.1L1282.5 1014.5L1285.5 1014.9L1288.5 1015.3L1291.5 1015.7L1294.5 1016.1L1297.5 1016.5L1300.5 1016.9L1303.5 1017.3L1306.5 1017.7L1309.5 1018.1L1312.5 1018.5L1315.5 1018.8L1318.5 1019.2L1321.5 1019.6L1324.5 1020.0L1327.5 1020.4L1330.5 1020.8L1333.5 1021.2L1336.5 1021.5L1339.5 1021.9L1342.5 1022.3L1345.5 1022.7L1348.5 1023.1L1351.5 1023.4L1354.5 1023.8L1357.5 1024.2L1360.5 1024.6L1363.5 1024.9L1366.5 1025.3L1369.5 1025.7L1370.0 1025.7" stroke="#82A848"/>
<path d="M94.5 588.6L97.5 590.0L100.5 591.4L103.5 592.9L106.5 594.3L109.5 595.7L112.5 597.2L115.5 598.6L118.5 600.0L121.5 601.5L124.5 602.9L127.5 604.3L130.5 605.8L133.5 607.2L136.5 608.7L139.5 610.1L142.5 611.5L145.5 613.0L148.5 614.4L151.5 615.9L154.5 617.3L157.5 618.8L160.5 620.2L163.5 621.7L166.5 623.1L169.5 624.6L172.5 626.0L175.5 627.5L178.5 629.0L181.5 630.4L184.5 631.9L187.5 633.3L190.5 634.8L193.5 636.3L196.5 637.7L199.5 639.2L202.5 640.7L205.5 642.1L208.5 643.6L211.5 645.0L214.5 646.5L217.5 648.0L220.5 649.4L223.5 650.9L226.5 652.4L229.5 653.9L232.5 655.3L235.5 656.8L238.5 658.3L241.5 659.7L244.5 661.2L247.5 662.7L250.5 664.1L253.5 665.6L256.5 667.1L259.5 668.6L262.5 670.0L265.5 671.5L268.5 673.0L271.5 674.4L274.5 675.9L277.5 677.4L280.5 678.9L283.5 680.3L286.5 681.8L289.5 683.3L292.5 684.7L295.5 686.2L298.5 687.7L301.5 689.2L304.5 690.6L307.5 692.1L310.5 693.6L313.5 695.0L316.5 696.5L319.5 698.0L322.5 699.4L325.5 700.9L328.5 702.4L331.5 703.8L334.5 705.3L337.5 706.8L340.5 708.2L343.5 709.7L346.5 711.2L349.5 712.6L352.5 714.1L355.5 715.6L358.5 717.0L361.5 718.5L364.5 719.9L367.5 721.4L370.5 722.9L373.5 724.3L376.5 725.8L379.5 727.2L382.5 728.7L385.5 730.1L388.5 731.6L391.5 733.0L394.5 734.5L397.5 735.9L400.5 737.4L403.5 738.8L406.5 740.3L409.5 741.7L412.5 743.2L415.5 744.6L418.5 746.0L421.5 747.5L424.5 748.9L427.5 750.4L430.5 751.8L433.5 753.2L436.5 754.7L439.5 756.1L442.5 757.5L445.5 758.9L448.5 760.4L451.5 761.8L454.5 763.2L457.5 764.6L460.5 766.1L463.5 767.5L466.5 768.9L469.5 770.3L472.5 771.7L475.5 773.1L478.5 774.5L481.5 775.9L484.5 777.3L487.5 778.7L490.5 780.1L493.5 781.5L496.5 782.9L499.5 784.3L502.5 785.7L505.5 787.1L508.5 788.5L511.5 789.9L514.5 791.3L517.5 792.7L520.5 794.0L523.5 795.4L526.5 796.8L529.5 798.2L532.5 799.5L535.5 800.9L538.5 802.3L541.5 803.6L544.5 805.0L547.5 806.3L550.5 807.7L553.5 809.1L556.5 810.4L559.5 811.8L562.5 813.1L565.5 814.4L568.5 815.8L571.5 817.1L574.5 818.4L577.5 819.8L580.5 821.1L583.5 822.4L586.5 823.8L589.5 825.1L592.5 826.4L595.5 827.7L598.5 829.0L601.5 830.3L604.5 831.6L607.5 832.9L610.5 834.2L613.5 835.5L616.5 836.8L619.5 838.1L622.5 839.4L625.5 840.7L628.5 842.0L631.5 843.2L634.5 844.5L637.5 845.8L640.5 847.0L643.5 848.3L646.5 849.6L649.5 850.8L652.5 852.1L655.5 853.3L658.5 854.6L661.5 855.8L664.5 857.0L667.5 858.3L670.5 859.5L673.5 860.7L676.5 862.0L679.5 863.2L682.5 864.4L685.5 865.6L688.5 866.8L691.5 868.0L694.5 869.2L697.5 870.4L700.5 871.6L703.5 872.8L706.5 874.0L709.5 875.2L712.5 876.3L715.5 877.5L718.5 878.7L721.5 879.8L724.5 881.0L727.5 882.2L730.5 883.3L733.5 884.5L736.5 885.6L739.5 886.7L742.5 887.9L745.5 889.0L748.5 890.1L751.5 891.3L754.5 892.4L757.5 893.5L760.5 894.6L763.5 895.7L766.5 896.8L769.5 897.9L772.5 899.0L775.5 900.1L778.5 901.1L781.5 902.2L784.5 903.3L787.5 904.4L790.5 905.4L793.5 906.5L796.5 907.5L799.5 908.6L802.5 909.6L805.5 910.7L808.5 911.7L811.5 912.7L814.5 913.7L817.5 914.8L820.5 915.8L823.5 916.8L826.5 917.8L829.5 918.8L832.5 919.8L835.5 920.8L838.5 921.7L841.5 922.7L844.5 923.7L847.5 924.7L850.5 925.6L853.5 926.6L856.5 927.5L859.5 928.5L862.5 929.4L865.5 930.3L868.5 931.3L871.5 932.2L874.5 933.1L877.5 934.0L880.5 934.9L883.5 935.8L886.5 936.7L889.5 937.6L892.5 938.5L895.5 939.4L898.5 940.3L901.5 941.1L904.5 942.0L907.5 942.8L910.5 943.7L913.5 944.5L916.5 945.4L919.5 946.2L922.5 947.0L925.5 947.9L928.5 948.7L931.5 949.5L934.5 950.3L937.5 951.1L940.5 951.9L943.5 952.7L946.5 953.5L949.5 954.2L952.5 955.0L955.5 955.8L958.5 956.5L961.5 957.3L964.5 958.1L967.5 958.8L970.5 959.5L973.5 960.3L976.5 961.0L979.5 961.8L982.5 962.5L985.5 963.2L988.5 963.9L991.5 964.6L994.5 965.3L997.5 966.0L1000.5 966.7L1003.5 967.4L1006.5 968.1L1009.5 968.8L1012.5 969.5L1015.5 970.1L1018.5 970.8L1021.5 971.5L1024.5 972.1L1027.5 972.8L1030.5 973.4L1033.5 974.1L1036.5 974.7L1039.5 975.4L1042.5 976.0L1045.5 976.6L1048.5 977.2L1051.5 977.9L1054.5 978.5L1057.5 979.1L1060.5 979.7L1063.5 980.3L1066.5 980.9L1069.5 981.5L1072.5 982.1L1075.5 982.7L1078.5 983.3L1081.5 983.9L1084.5 984.4L1087.5 985.0L1090.5 985.6L1093.5 986.1L1096.5 986.7L1099.5 987.3L1102.5 987.8L1105.5 988.4L1108.5 988.9L1111.5 989.5L1114.5 990.0L1117.5 990.5L1120.5 991.1L1123.5 991.6L1126.5 992.1L1129.5 992.7L1132.5 993.2L1135.5 993.7L1138.5 994.2L1141.5 994.7L1144.5 995.2L1147.5 995.7L1150.5 996.2L1153.5 996.7L1156.5 997.2L1159.5 997.7L1162.5 998.2L1165.5 998.7L1168.5 999.2L1171.5 999.7L1174.5 1000.1L1177.5 1000.6L1180.5 1001.1L1183.5 1001.5L1186.5 1002.0L1189.5 1002.5L1192.5 1002.9L1195.5 1003.4L1198.5 1003.9L1201.5 1004.3L1204.5 1004.8L1207.5 1005.2L1210.5 1005.7L1213.5 1006.1L1216.5 1006.5L1219.5 1007.0L1222.5 1007.4L1225.5 1007.8L1228.5 1008.3L1231.5 1008.7L1234.5 1009.1L1237.5 1009.6L1240.5 1010.0L1243.5 1010.4L1246.5 1010.8L1249.5 1011.2L1252.5 1011.6L1255.5 1012.1L1258.5 1012.5L1261.5 1012.9L1264.5 1013.3L1267.5 1013.7L1270.5 1014.1L1273.5 1014.5L1276.5 1014.9L1279.5 1015.3L1282.5 1015.7L1285.5 1016.1L1288.5 1016.5L1291.5 1016.8L1294.5 1017.2L1297.5 1017.6L1300.5 1018.0L1303.5 1018.4L1306.5 1018.8L1309.5 1019.2L1312.5 1019.5L1315.5 1019.9L1318.5 1020.3L1321.5 1020.7L1324.5 1021.0L1327.5 1021.4L1330.5 1021.8L1333.5 1022.1L1336.5 1022.5L1339.5 1022.9L1342.5 1023.2L1345.5 1023.6L1348.5 1024.0L1351.5 1024.3L1354.5 1024.7L1357.5 1025.1L1360.5 1025.4L1363.5 1025.8L1366.5 1026.1L1369.5 1026.5L1370.0 1026.6" stroke="#8F1D30"/>
</g>
<g fill="#262626" font-size="38">
<text x="76.5" y="1043.3" text-anchor="end">1</text>
<text x="76.5" y="920.8" text-anchor="end">2</text>
<text x="76.5" y="798.3" text-anchor="end">3</text>
<text x="76.5" y="675.7" text-anchor="end">4</text>
<text x="76.5" y="553.2" text-anchor="end">5</text>
<text x="76.5" y="430.7" text-anchor="end">6</text>
<text x="76.5" y="308.1" text-anchor="end">7</text>
<text x="76.5" y="185.6" text-anchor="end">8</text>
<text x="76.5" y="63.1" text-anchor="end">9</text>
<text x="93.70" y="1082" text-anchor="middle" letter-spacing="0.8">2.23</text>
<text x="253.14" y="1082" text-anchor="middle" letter-spacing="0.8">2.24</text>
<text x="412.57" y="1082" text-anchor="middle" letter-spacing="0.8">2.25</text>
<text x="572.01" y="1082" text-anchor="middle" letter-spacing="0.8">2.26</text>
<text x="731.45" y="1082" text-anchor="middle" letter-spacing="0.8">2.27</text>
<text x="890.89" y="1082" text-anchor="middle" letter-spacing="0.8">2.28</text>
<text x="1050.33" y="1082" text-anchor="middle" letter-spacing="0.8">2.29</text>
<text x="1209.76" y="1082" text-anchor="middle" letter-spacing="0.8">2.3</text>
<text x="1369.20" y="1082" text-anchor="middle" letter-spacing="0.8">2.31</text>
</g>
<text x="731.52" y="30.4" text-anchor="middle" font-size="42.6" letter-spacing="0.24" font-weight="bold" fill="#000">Linewidth enhancement factor versus lasing frequency</text>
<text x="732.5" y="1138.3" text-anchor="middle" font-size="41.2" letter-spacing="1.0" fill="#262626">Frequency (Hz)</text>
<text transform="translate(30.5 539.5) rotate(-90)" text-anchor="middle" font-size="41.2" letter-spacing="0.4" fill="#262626">LWEF (Alpha Factor)</text>
<text x="1262.0" y="1150.8" font-size="46" fill="#262626" stroke="#fff" stroke-width="1.1">×</text>
<text x="1291.5" y="1144.6" font-size="38" fill="#262626">10<tspan font-size="30" dx="1.8" dy="-18.4">14</tspan></text>
<g fill="#000">
<rect x="733.5" y="117.1" width="460.29999999999995" height="430.69999999999993" fill="#fff" stroke="#262626" stroke-width="2"/>
<line x1="744.9" y1="157.10" x2="862.2" y2="157.10" stroke="#3F6FB4" stroke-width="4.2"/>
<text x="871.4" y="166.7" font-size="35" stroke="#000" stroke-width="0.45">N<tspan font-size="27.5" dx="0.8" dy="15.8">QW</tspan><tspan dx="1.0" dy="-15.8" letter-spacing="0.2"> = 2.5x10</tspan><tspan font-size="27.5" dx="1.3" dy="-15.6">24</tspan><tspan dx="2.3" dy="15.6">m</tspan><tspan font-size="27.5" dx="2.3" dy="-15.6" letter-spacing="0.6">-3</tspan></text>
<line x1="744.9" y1="227.50" x2="862.2" y2="227.50" stroke="#BB5128" stroke-width="4.2"/>
<text x="871.4" y="237.6" font-size="35" stroke="#000" stroke-width="0.45">N<tspan font-size="27.5" dx="0.8" dy="15.8">QW</tspan><tspan dx="1.0" dy="-15.8" letter-spacing="0.2"> = 3x10</tspan><tspan font-size="27.5" dx="1.3" dy="-15.6">24</tspan><tspan dx="2.3" dy="15.6">m</tspan><tspan font-size="27.5" dx="2.3" dy="-15.6" letter-spacing="0.6">-3</tspan></text>
<line x1="744.9" y1="297.50" x2="862.2" y2="297.50" stroke="#DAAB31" stroke-width="4.2"/>
<text x="871.4" y="308.4" font-size="35" stroke="#000" stroke-width="0.45">N<tspan font-size="27.5" dx="0.8" dy="15.8">QW</tspan><tspan dx="1.0" dy="-15.8" letter-spacing="0.2"> = 3.5x10</tspan><tspan font-size="27.5" dx="1.3" dy="-15.6">24</tspan><tspan dx="2.3" dy="15.6">m</tspan><tspan font-size="27.5" dx="2.3" dy="-15.6" letter-spacing="0.6">-3</tspan></text>
<line x1="744.9" y1="367.50" x2="862.2" y2="367.50" stroke="#6A2C88" stroke-width="4.2"/>
<text x="871.4" y="377.6" font-size="35" stroke="#000" stroke-width="0.45">N<tspan font-size="27.5" dx="0.8" dy="15.8">QW</tspan><tspan dx="1.0" dy="-15.8" letter-spacing="0.2"> = 4x10</tspan><tspan font-size="27.5" dx="1.3" dy="-15.6">24</tspan><tspan dx="2.3" dy="15.6">m</tspan><tspan font-size="27.5" dx="2.3" dy="-15.6" letter-spacing="0.6">-3</tspan></text>
<line x1="744.9" y1="437.90" x2="862.2" y2="437.90" stroke="#82A848" stroke-width="4.2"/>
<text x="871.4" y="448.4" font-size="35" stroke="#000" stroke-width="0.45">N<tspan font-size="27.5" dx="0.8" dy="15.8">QW</tspan><tspan dx="1.0" dy="-15.8" letter-spacing="0.2"> = 4.5x10</tspan><tspan font-size="27.5" dx="1.3" dy="-15.6">24</tspan><tspan dx="2.3" dy="15.6">m</tspan><tspan font-size="27.5" dx="2.3" dy="-15.6" letter-spacing="0.6">-3</tspan></text>
<line x1="744.9" y1="507.70" x2="862.2" y2="507.70" stroke="#78B8E4" stroke-width="2.2"/>
<text x="871.4" y="519.5" font-size="35" stroke="#000" stroke-width="0.45">N<tspan font-size="27.5" dx="0.8" dy="15.8">QW</tspan><tspan dx="1.0" dy="-15.8" letter-spacing="0.2"> = 5x10</tspan><tspan font-size="27.5" dx="1.3" dy="-15.6">24</tspan><tspan dx="2.3" dy="15.6">m</tspan><tspan font-size="27.5" dx="2.3" dy="-15.6" letter-spacing="0.6">-3</tspan></text>
</g>
</svg>
</body></html>
